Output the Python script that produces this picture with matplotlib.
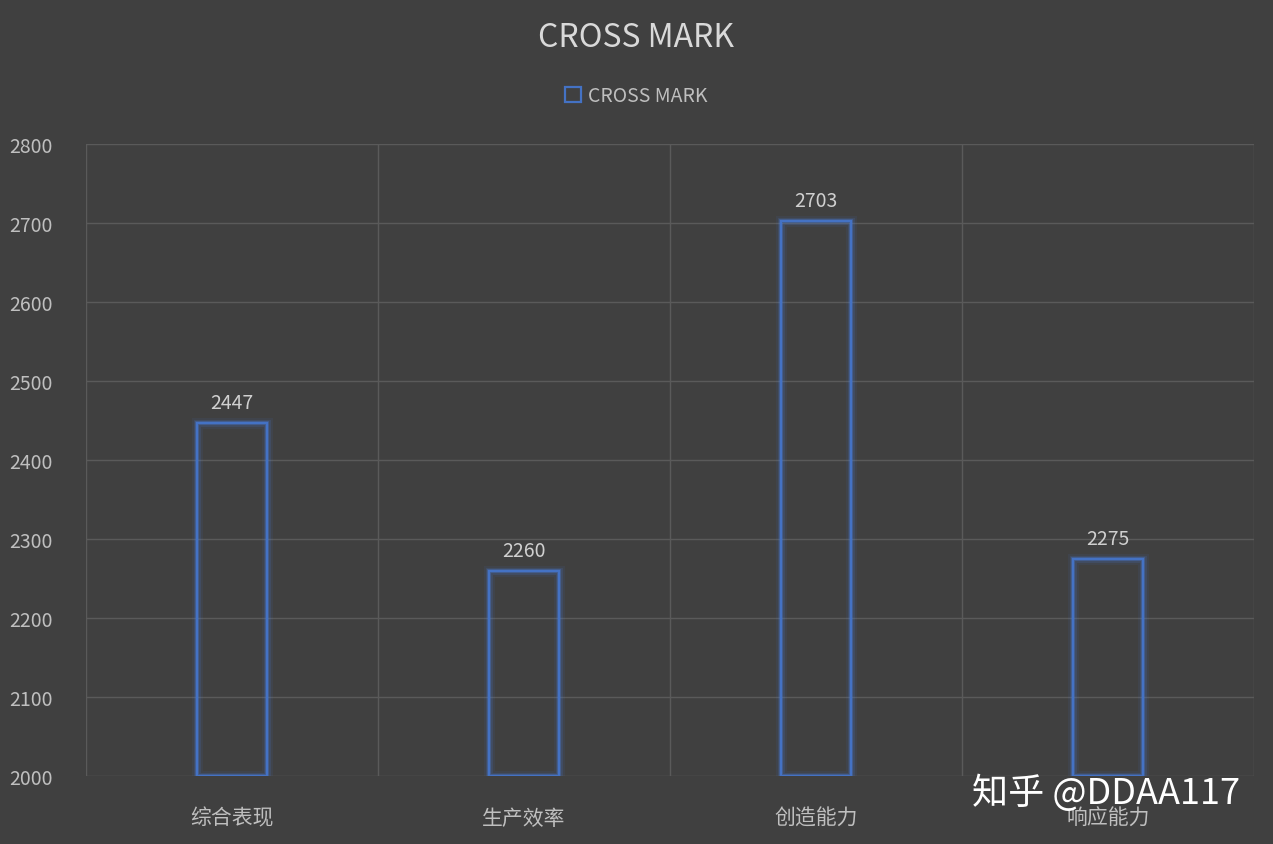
import matplotlib
matplotlib.use("Agg")
import matplotlib.pyplot as plt
from matplotlib.ticker import MultipleLocator

plt.rcParams['font.family'] = ['Noto Sans CJK SC', 'DejaVu Sans']

categories = ['综合表现', '生产效率', '创造能力', '响应能力']
values = [2447, 2260, 2703, 2275]
series_name = 'CROSS MARK'
title = 'CROSS MARK'

bg = '#404040'
fig = plt.figure(figsize=(12.73, 8.45), dpi=100, facecolor=bg)
ax = fig.add_axes([86/1273, 1-777/845, (1254-86)/1273, (777-145)/845], facecolor=bg)

x = list(range(len(categories)))
w = 0.24
for lw, a in [(8, 0.08), (5, 0.15), (3, 0.3)]:
    ax.bar(x, [v - 2000 for v in values], width=w, bottom=2000, fill=False,
           edgecolor='#4a7fe0', linewidth=lw, alpha=a, zorder=3)
bars = ax.bar(x, [v - 2000 for v in values], width=w, bottom=2000, fill=False,
              edgecolor='#4472C4', linewidth=1.6, zorder=4, label=series_name)
for xi, v in zip(x, values):
    ax.text(xi, v + 12, str(v), ha='center', va='bottom', color='#d0d0d0', fontsize=14)

ax.set_xlim(-0.5, 3.5)
ax.set_ylim(2000, 2800)
ax.yaxis.set_major_locator(MultipleLocator(100))
ax.set_xticks(x)
ax.set_xticklabels(categories)
ax.set_xticks([-0.5, 0.5, 1.5, 2.5, 3.5], minor=True)
ax.grid(True, which='major', axis='y', color='#5a5a5a', linewidth=1, zorder=0)
ax.grid(True, which='minor', axis='x', color='#5a5a5a', linewidth=1, zorder=0)
ax.tick_params(axis='both', which='both', length=0, colors='#bfbfbf')
ax.tick_params(axis='y', labelsize=14, pad=55)
ax.tick_params(axis='x', labelsize=15, pad=22)
for lab in ax.get_yticklabels():
    lab.set_horizontalalignment('left')
for s in ax.spines.values():
    s.set_visible(False)

fig.text(0.5, 1-38/845, title, ha='center', va='center', color='#d9d9d9', fontsize=23)
fig.legend(handles=[bars], loc='center', bbox_to_anchor=(0.5, 1-97/845), frameon=False,
           fontsize=14, labelcolor='#bfbfbf', handlelength=0.8, handleheight=0.8, handletextpad=0.4)
fig.text(1240/1273, 1-793/845, '知乎 @DDAA117', ha='right', va='center', color='white', fontsize=26)

fig.savefig('out.png', dpi=100, facecolor=bg)
